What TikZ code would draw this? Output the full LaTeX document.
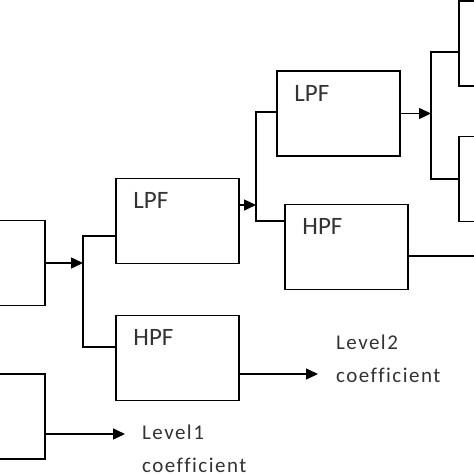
\documentclass[tikz,border=0pt]{standalone}
\usepackage{fontspec}
\setmainfont{Carlito}
\newfontfamily\coeffont[LetterSpace=7, Ligatures=NoCommon]{Carlito}
\usetikzlibrary{arrows.meta, positioning}

\begin{document}
\begin{tikzpicture}[
  x=1pt, y=-1pt,
  filter/.style={rectangle, draw, line width=1.5pt, minimum width=123pt, minimum height=85pt, inner sep=0pt},
  fname/.style={anchor=north west, inner sep=0pt, xshift=18pt, yshift=-15pt, text=black!80, font=\fontsize{25}{28}\selectfont},
  coef/.style={anchor=north west, inner sep=0pt, align=left, text=black!80, font=\coeffont\fontsize{21}{33}\selectfont},
  arrow/.style={-{Triangle[length=12pt, width=11pt]}, line width=1.5pt},
  wire/.style={line width=1.5pt}
]
\useasboundingbox (0,0) rectangle (474,474);
\clip (0,0) rectangle (474,474);

% Nodes
\node[filter] (in0) at (-16.5, 263) {};
\node[filter] (in1) at (-16.5, 416.5) {};
\node[filter, label={[fname, label distance=0pt]north west:LPF}] (lpf1) at (177.5, 221) {};
\node[filter, label={[fname, label distance=0pt]north west:HPF}] (hpf1) at (177.5, 358) {};
\node[filter, label={[fname, label distance=0pt]north west:LPF}] (lpf2) at (338.5, 113.5) {};
\node[filter, label={[fname, label distance=0pt]north west:HPF}] (hpf2) at (346.5, 247) {};
\node[filter] (r1) at (520.5, 43.5) {};
\node[filter] (r2) at (520.5, 179) {};

% Coefficient labels
\node[coef] (lev1) at (142, 425) {Level1\\coefficient};
\node[coef] (lev2) at (336, 335) {Level2\\coefficient};

% Split points
\coordinate (s1a) at (83, 236);
\coordinate (s1b) at (83, 347);
\coordinate (s2a) at (256, 112);
\coordinate (s2b) at (256, 221);
\coordinate (s3a) at (431, 52);
\coordinate (s3b) at (431, 179);
\coordinate (t1) at (125, 434);
\coordinate (t2) at (318, 374);
\coordinate (hpf2out) at (490, 256);

% Level 1
\draw[arrow] (in0.east) -- (in0.east -| s1a);
\draw[wire] (s1a -| lpf1.west) -- (s1a) -- (s1b) -- (s1b -| hpf1.west);
\draw[arrow] (in1.east |- t1) -- (t1);

% Level 2
\draw[arrow] ([yshift=16pt]lpf1.east) -- ([yshift=16pt]lpf1.east -| s2a);
\draw[wire] (s2a -| lpf2.west) -- (s2a) -- (s2b) -- (s2b -| hpf2.west);
\draw[arrow] (hpf1.east |- t2) -- (t2);

% Level 3
\draw[arrow] (lpf2.east) -- (lpf2.east -| s3a);
\draw[wire] (s3a -| r1.west) -- (s3a) -- (s3b) -- (s3b -| r2.west);
\draw[wire] (hpf2.east |- hpf2out) -- (hpf2out);

\end{tikzpicture}
\end{document}
